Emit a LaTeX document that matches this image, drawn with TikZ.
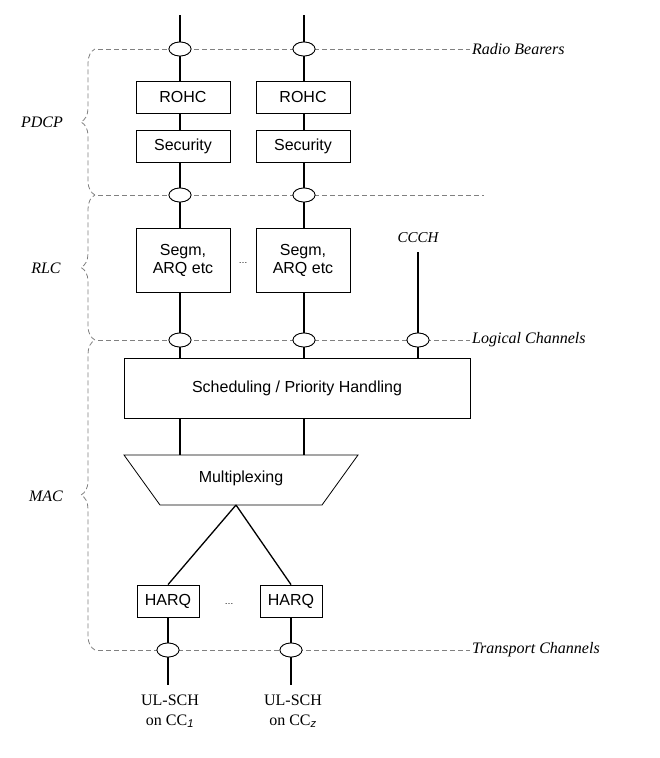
\documentclass[tikz,border=0pt]{standalone}
\usepackage{fontspec}
\setmainfont{Liberation Sans}
\newfontfamily\serf{Liberation Serif}
\usetikzlibrary{shapes.geometric,decorations.pathreplacing}
\begin{document}
\begin{tikzpicture}[x=1pt,y=-1pt,
  box/.style={draw,line width=0.8pt,minimum height=32pt,font=\fontsize{16}{18}\selectfont,align=center,inner sep=2pt},
  sol/.style={line width=1.3pt},
  dsh/.style={gray,dash pattern=on 5pt off 3pt,line width=0.8pt},
  ell/.style={draw,ellipse,fill=white,line width=0.8pt,minimum width=22pt,minimum height=14pt,inner sep=0pt},
  lab/.style={font=\serf\itshape\fontsize{16}{18}\selectfont,anchor=west,inner sep=2pt},
  lft/.style={font=\serf\itshape\fontsize{16}{18}\selectfont},
  brc/.style={dsh,decorate,decoration={brace,amplitude=14pt,aspect=0.5}}]
\useasboundingbox (0,0) rectangle (660,758);
% top points
\coordinate (t1) at (180,15);
\coordinate (t2) at (304,15);
\coordinate (b1) at (168,685);
\coordinate (b2) at (291,685);
% dashed channel lines
\draw[dsh] (98,49) -- (470,49);
\draw[dsh] (98,195) -- (484,195);
\draw[dsh] (98,340) -- (470,340);
\draw[dsh] (98,650) -- (470,650);
\node[lab] (rb) at (470,49) {Radio Bearers};
\node[lab] (lc) at (470,340) {Logical Channels};
\node[lab] (tc) at (470,650) {Transport Channels};
% braces
\draw[brc] (95,195) -- (95,49);
\draw[brc] (95,340) -- (95,195);
\draw[brc] (95,650) -- (95,340);
\node[lft] (pdcp) at (42,122) {PDCP};
\node[lft] (rlc) at (46,268) {RLC};
\node[lft] (mac) at (46,496) {MAC};
% boxes
\node[box,minimum width=94pt] (r1) at (183,97) {ROHC};
\node[box,minimum width=94pt] (r2) at (303,97) {ROHC};
\node[box,minimum width=94pt] (s1) at (183,146) {Security};
\node[box,minimum width=94pt] (s2) at (303,146) {Security};
\node[box,minimum width=94pt,minimum height=64pt] (g1) at (183,260) {Segm,\\ARQ etc};
\node[box,minimum width=94pt,minimum height=64pt] (g2) at (303,260) {Segm,\\ARQ etc};
\node[font=\small] (d1) at (243,263) {\dots};
\node[box,minimum width=346pt,minimum height=60pt] (sch) at (297,388) {Scheduling / Priority Handling};
\draw[line width=0.8pt] (124,455) -- (358,455) -- (322,505) -- (160,505) -- cycle;
\node[font=\fontsize{16}{18}\selectfont] (mux) at (241,478) {Multiplexing};
\coordinate (mp) at (236,505);
\node[box,minimum width=62pt] (h1) at (168,601) {HARQ};
\node[box,minimum width=62pt] (h2) at (291,601) {HARQ};
\node[font=\small] (d2) at (229,604) {\dots};
% ellipses
\node[ell] (e11) at (180,49) {};
\node[ell] (e12) at (304,49) {};
\node[ell] (e21) at (180,195) {};
\node[ell] (e22) at (304,195) {};
\node[ell] (e31) at (180,340) {};
\node[ell] (e32) at (304,340) {};
\node[ell] (e33) at (418,340) {};
\node[ell] (e41) at (168,650) {};
\node[ell] (e42) at (291,650) {};
\node[font=\serf\itshape\fontsize{15}{17}\selectfont] (ccch) at (418,238) {CCCH};
\coordinate (ct) at (418,252);
% solid lines
\draw[sol] (t1) -- (e11) -- (180,81);
\draw[sol] (t2) -- (e12) -- (304,81);
\draw[sol] (180,113) -- (180,130);
\draw[sol] (304,113) -- (304,130);
\draw[sol] (180,162) -- (e21) -- (180,228);
\draw[sol] (304,162) -- (e22) -- (304,228);
\draw[sol] (180,292) -- (e31) -- (180,358);
\draw[sol] (304,292) -- (e32) -- (304,358);
\draw[sol] (ct) -- (e33) -- (418,358);
\draw[sol] (180,418) -- (180,455);
\draw[sol] (304,418) -- (304,455);
\draw[sol] (mp) -- (h1.north);
\draw[sol] (mp) -- (h2.north);
\draw[sol] (h1) -- (e41) -- (b1);
\draw[sol] (h2) -- (e42) -- (b2);
\foreach \e in {e11,e12,e21,e22,e31,e32,e33,e41,e42}{\path (\e) node[ell] {};}
\node[font=\serf\fontsize{16}{20}\selectfont,align=center] (u1) at (170,711) {UL-SCH\\on CC$_{\mathit{1}}$};
\node[font=\serf\fontsize{16}{20}\selectfont,align=center] (u2) at (293,711) {UL-SCH\\on CC$_{\mathit{z}}$};
\end{tikzpicture}
\end{document}
